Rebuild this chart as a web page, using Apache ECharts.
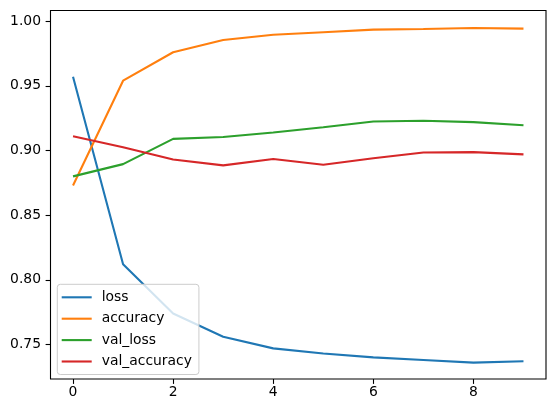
<!DOCTYPE html>
<html>
<head>
<meta charset="utf-8">
<script src="https://cdn.jsdelivr.net/npm/echarts@6/dist/echarts.min.js"></script>
<style>html,body{margin:0;padding:0;background:#fff}#c{width:556px;height:413px}</style>
</head>
<body>
<div id="c"></div>
<script>
var epochs = [0, 1, 2, 3, 4, 5, 6, 7, 8, 9];
var loss = [0.957, 0.812, 0.774, 0.756, 0.747, 0.743, 0.740, 0.738, 0.736, 0.737];
var accuracy = [0.873, 0.954, 0.976, 0.9855, 0.9895, 0.9915, 0.9935, 0.994, 0.9948, 0.9943];
var valLoss = [0.880, 0.8895, 0.909, 0.9105, 0.914, 0.918, 0.9225, 0.923, 0.922, 0.9195];
var valAccuracy = [0.911, 0.9025, 0.893, 0.8885, 0.8935, 0.889, 0.894, 0.8985, 0.8988, 0.897];
var seriesNames = ['loss', 'accuracy', 'val_loss', 'val_accuracy'];
var xTicks = [0, 2, 4, 6, 8];
var yTicks = [0.75, 0.80, 0.85, 0.90, 0.95, 1.00];

var colors = ['#1f77b4', '#ff7f0e', '#2ca02c', '#d62728'];
var allSeries = [loss, accuracy, valLoss, valAccuracy];
var font = 'DejaVu Sans';

var chart = echarts.init(document.getElementById('c'), null, {renderer: 'canvas'});
chart.setOption({
  animation: false,
  backgroundColor: '#ffffff',
  color: colors,
  grid: {left: 50.5, right: 10, top: 10.5, bottom: 34, show: true, borderColor: '#000', borderWidth: 1.1, backgroundColor: 'transparent'},
  xAxis: {
    type: 'value', min: -0.45, max: 9.45,
    splitLine: {show: false},
    axisLine: {show: false, onZero: false},
    axisTick: {show: true, inside: false, length: 4.9, lineStyle: {color: '#000', width: 1.1}, customValues: xTicks},
    axisLabel: {show: true, margin: 6.5, color: '#000', fontFamily: font, fontSize: 13.9, customValues: xTicks, formatter: function (v) { return String(v); }}
  },
  yAxis: {
    type: 'value', min: 0.7233, max: 1.0083,
    splitLine: {show: false},
    axisLine: {show: false, onZero: false},
    axisTick: {show: true, inside: false, length: 4.9, lineStyle: {color: '#000', width: 1.1}, customValues: yTicks},
    axisLabel: {show: true, margin: 9.5, color: '#000', fontFamily: font, fontSize: 13.9, customValues: yTicks, formatter: function (v) { return v.toFixed(2); }}
  },
  legend: {
    orient: 'vertical', left: 57.3, top: 284.3,
    padding: [5, 7, 5, 4.4],
    icon: 'rect',
    itemWidth: 30, itemHeight: 2.1, itemGap: 5.4,
    backgroundColor: 'rgba(255,255,255,0.8)', borderColor: '#cccccc', borderWidth: 1, borderRadius: 3,
    textStyle: {fontFamily: font, fontSize: 13.9, color: '#000', padding: [0, 0, 0, 5], lineHeight: 16},
    data: seriesNames
  },
  series: allSeries.map(function (vals, i) {
    return {
      name: seriesNames[i], type: 'line', symbol: 'none',
      lineStyle: {width: 2.1, color: colors[i]},
      itemStyle: {color: colors[i]},
      data: epochs.map(function (e, j) { return [e, vals[j]]; })
    };
  })
});
</script>
</body>
</html>
